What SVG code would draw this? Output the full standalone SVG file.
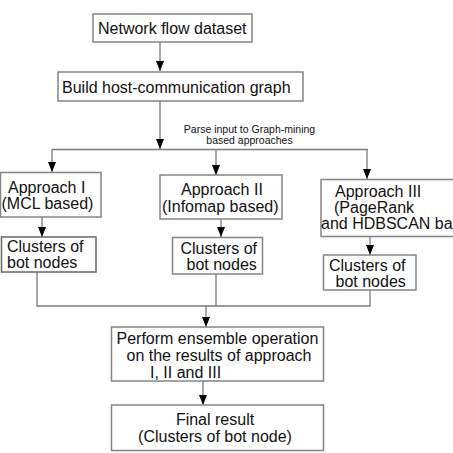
<svg xmlns="http://www.w3.org/2000/svg" width="453" height="453" viewBox="0 0 453 453">
<style>
.box{fill:#ffffff;stroke:#858585;stroke-width:1.5}
.t{font-family:"Liberation Sans",Arial,sans-serif;font-size:16px;fill:#111111}
.s{font-family:"Liberation Sans",Arial,sans-serif;font-size:10.5px;fill:#111111;text-anchor:middle}
.c{fill:none;stroke:#7a7a7a;stroke-width:1.3}
.a{marker-end:url(#arr)}
</style>
<defs>
<marker id="arr" viewBox="0 0 10 8" markerWidth="10" markerHeight="8" refX="10" refY="4" orient="auto" markerUnits="userSpaceOnUse">
<path d="M0,0 L10,4 L0,8 z" fill="#000000"/>
</marker>
</defs>
<rect width="453" height="453" fill="#ffffff"/>
<g id="connectors">
<line class="c a" x1="160" y1="42" x2="160" y2="71"/>
<line class="c a" x1="160" y1="101" x2="160" y2="149"/>
<line class="c" x1="52" y1="149.5" x2="368" y2="149.5"/>
<line class="c a" x1="52" y1="149.5" x2="52" y2="172"/>
<line class="c a" x1="216" y1="149.5" x2="216" y2="175"/>
<line class="c a" x1="367" y1="149.5" x2="367" y2="179"/>
<line class="c a" x1="42" y1="217" x2="42" y2="237"/>
<line class="c a" x1="221" y1="219" x2="221" y2="237"/>
<line class="c a" x1="370" y1="237" x2="370" y2="255"/>
<polyline class="c" points="37,272 37,306 370,306 370,290"/>
<line class="c" x1="216" y1="274" x2="216" y2="306"/>
<line class="c a" x1="206" y1="306" x2="206" y2="327"/>
<line class="c a" x1="203" y1="381" x2="203" y2="405"/>
<text class="s" x="249.5" y="133">Parse input to Graph-mining</text>
<text class="s" x="249.5" y="143.5">based approaches</text>
</g>
<g id="n-dataset">
<rect class="box" x="93" y="14" width="159" height="28"/>
<text class="t" x="98" y="34">Network flow dataset</text>
</g>
<g id="n-graph">
<rect class="box" x="58" y="72" width="245" height="29"/>
<text class="t" x="62" y="92.5">Build host-communication graph</text>
</g>
<g id="n-approach1">
<rect class="box" x="0.5" y="172.5" width="100.5" height="44.5"/>
<text class="t" x="8" y="192.5">Approach I</text>
<text class="t" x="1.5" y="208.5">(MCL based)</text>
</g>
<g id="n-approach2">
<rect class="box" x="160" y="175" width="122" height="44"/>
<text class="t" x="181" y="195">Approach II</text>
<text class="t" x="162" y="211.5">(Infomap based)</text>
</g>
<g id="n-approach3">
<rect class="box" x="321" y="179.5" width="140" height="57"/>
<text class="t" x="335" y="197">Approach III</text>
<text class="t" x="334" y="213">(PageRank</text>
<text class="t" x="321" y="229">and HDBSCAN ba</text>
</g>
<g id="n-clusters1">
<rect class="box" x="1.5" y="237" width="94.5" height="35" style="stroke:#666666"/>
<text class="t" x="7" y="252">Clusters of</text>
<text class="t" x="7" y="268">bot nodes</text>
</g>
<g id="n-clusters2">
<rect class="box" x="172.5" y="237.5" width="90" height="36.5"/>
<text class="t" x="180.5" y="253.5">Clusters of</text>
<text class="t" x="186.5" y="269.5">bot nodes</text>
</g>
<g id="n-clusters3">
<rect class="box" x="323.5" y="255" width="92.5" height="35"/>
<text class="t" x="329" y="270.5">Clusters of</text>
<text class="t" x="335.5" y="286.5">bot nodes</text>
</g>
<g id="n-ensemble">
<rect class="box" x="111.5" y="327" width="212" height="54"/>
<text class="t" x="116.5" y="344">Perform ensemble operation</text>
<text class="t" x="126.5" y="361">on the results of approach</text>
<text class="t" x="150" y="378">I, II and III</text>
</g>
<g id="n-final">
<rect class="box" x="111.5" y="405" width="212" height="45.5"/>
<text class="t" x="215" y="425" text-anchor="middle">Final result</text>
<text class="t" x="215" y="441.5" text-anchor="middle">(Clusters of bot node)</text>
</g>
</svg>
